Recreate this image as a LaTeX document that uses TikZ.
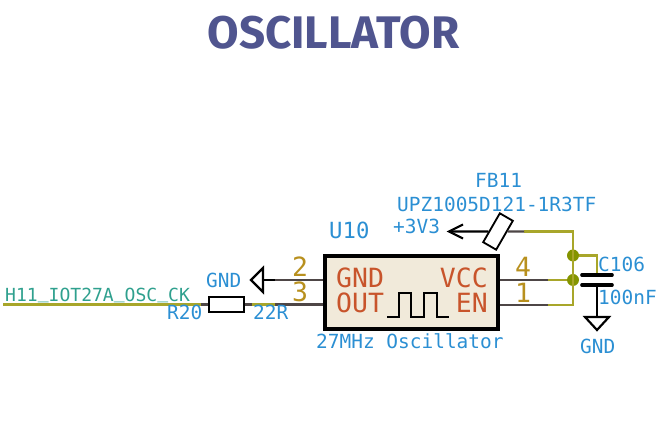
\documentclass[tikz,border=0pt]{standalone}
\usepackage{fontspec}
\setmainfont{DejaVu Sans Mono}
\newfontfamily\titlefont{Fira Sans}
\usepackage{tikz}
\usetikzlibrary{positioning}
\definecolor{labelblue}{HTML}{2B8FD3}
\definecolor{pinred}{HTML}{C8542B}
\definecolor{pingold}{HTML}{B8901E}
\definecolor{wireolive}{HTML}{A8A62A}
\definecolor{netteal}{HTML}{2FA08E}
\definecolor{dotolive}{HTML}{849400}
\definecolor{pindark}{HTML}{4E4646}
\definecolor{bodyfill}{HTML}{F1EADA}
\definecolor{titleblue}{HTML}{50558F}
\newcommand{\netbar}{\raisebox{0.2em}{\_}}
\tikzstyle{wire} = [wireolive,line width=0.7mm]
\tikzstyle{pin} = [pindark,line width=0.7mm]
\tikzstyle{sym} = [black,line width=0.65mm]
\tikzstyle{lbl} = [anchor=base west,inner sep=0pt,text=labelblue,font=\fontsize{16.6}{18}\selectfont]
\tikzstyle{pinname} = [anchor=base west,inner sep=0pt,text=pinred,font=\fontsize{22.6}{24}\selectfont]
\tikzstyle{pinnum} = [anchor=base west,inner sep=0pt,text=pingold,font=\fontsize{22.6}{24}\selectfont]
\tikzstyle{junction} = [circle,fill=dotolive,inner sep=0pt,minimum size=0.36cm]
\begin{document}
\begin{tikzpicture}[x=0.03cm,y=-0.03cm]
    \useasboundingbox (0,0) rectangle (659,430);
    \node[anchor=base,inner sep=0pt,text=titleblue,font=\titlefont\bfseries\fontsize{39}{41}\selectfont] (title) at (333.5,49) {OSCILLATOR};

    \node[draw=black,line width=1.1mm,fill=bodyfill,inner sep=0pt,minimum width=5.19cm,minimum height=2.19cm] (U10) at (411.5,292.5) {};
    \node[draw=black,line width=0.65mm,fill=white,inner sep=0pt,minimum width=1.05cm,minimum height=0.45cm] (R20) at (226.5,304.5) {};
    \node[draw=black,line width=0.55mm,fill=white,inner sep=0pt,minimum width=1.0cm,minimum height=0.45cm,rotate=60] (FB11) at (498,231.5) {};
    \node[junction] (jtop) at (573,255.5) {};
    \node[junction] (jmid) at (573,280) {};

    \coordinate (netend) at (3,304.5);
    \coordinate (rleft) at (201,304.5);
    \coordinate (rright) at (252,304.5);
    \coordinate (pinthree) at (275,304.5);
    \coordinate (pintwo) at (275,280);
    \coordinate (gndleft) at (263,280);
    \coordinate (pinfour) at (548,280);
    \coordinate (pinone) at (548,305);
    \coordinate (fbright) at (524,231.5);
    \coordinate (fbtip) at (449,231.5);
    \coordinate (wirecorner) at (573,231.5);
    \coordinate (wireend) at (573,305);
    \coordinate (capjoin) at (597,255.5);
    \coordinate (plateone) at (597,275);
    \coordinate (platetwo) at (597,285);
    \coordinate (gndtop) at (597,317);

    \draw[wire] (netend) -- (rleft);
    \draw[wire] (rright) -- (pinthree);
    \draw[wire] (fbright) -- (wirecorner) -- (wireend) -- (pinone);
    \draw[wire] (jmid) -- (pinfour);
    \draw[wire] (jtop) -- (capjoin) -- (plateone);
    \draw[pin] (rleft) -- (R20);
    \draw[pin] (R20) -- (rright);
    \draw[pin] (pinthree) -- (pinthree-|U10.west);
    \draw[pin] (pintwo) -- (pintwo-|U10.west);
    \draw[pin] (pinfour) -- (pinfour-|U10.east);
    \draw[pin] (pinone) -- (pinone-|U10.east);
    \draw[sym] (gndleft) -- (pintwo);
    \draw[sym] (fbtip) -- (FB11);
    \draw[pin] (FB11) -- (fbright);
    \draw[sym] (platetwo) -- (gndtop);

    \draw[sym,line join=miter] (gndleft) -- ++(0,-12) -- ++(-12,12) -- ++(12,12) -- cycle;
    \draw[sym,line join=miter] (gndtop) -- ++(-12,0) -- ++(12,13) -- ++(12,-13) -- cycle;
    \draw[sym] (fbtip) ++(14,-7) -- (fbtip) -- ++(14,7);
    \draw[black,line width=1.1mm,line cap=round] (plateone) ++(-15,0) -- ++(30,0);
    \draw[black,line width=1.1mm,line cap=round] (platetwo) ++(-15,0) -- ++(30,0);

    \draw[sym,line width=0.5mm] (387,317) -- (399,317) -- (399,293) -- (411,293) -- (411,317) -- (424,317) -- (424,293) -- (437,293) -- (437,317) -- (449,317);

    \node[pinname] (gndname) at (336,288) {GND};
    \node[pinname] (outname) at (336,313) {OUT};
    \node[pinname,anchor=base east] (vccname) at (488,288) {VCC};
    \node[pinname,anchor=base east] (enname) at (488,313) {EN};
    \node[pinnum] (numfour) at (515,277) {4};
    \node[pinnum] (numone) at (515,303) {1};
    \node[pinnum] (numtwo) at (292,277) {2};
    \node[pinnum] (numthree) at (292,302) {3};

    \node[lbl,font=\fontsize{19}{20}\selectfont] (reftext) at (329,239) {U10};
    \node[lbl] (valtext) at (316,349) {27MHz Oscillator};
    \node[lbl] (fbref) at (475,188) {FB11};
    \node[lbl] (fbval) at (397,212) {UPZ1005D121-1R3TF};
    \node[lbl] (powtext) at (393,234) {+3V3};
    \node[lbl] (capref) at (598,272) {C106};
    \node[lbl] (capval) at (598,305) {100nF};
    \node[lbl] (gndbottom) at (580,354) {GND};
    \node[lbl] (gndtext) at (206,288) {GND};
    \node[lbl] (rref) at (167,320) {R20};
    \node[lbl] (rval) at (253,320) {22R};
    \node[lbl,text=netteal,font=\fontsize{15.4}{17}\selectfont] (netname) at (5,302) {H11\netbar IOT27A\netbar OSC\netbar CK};
\end{tikzpicture}
\end{document}
